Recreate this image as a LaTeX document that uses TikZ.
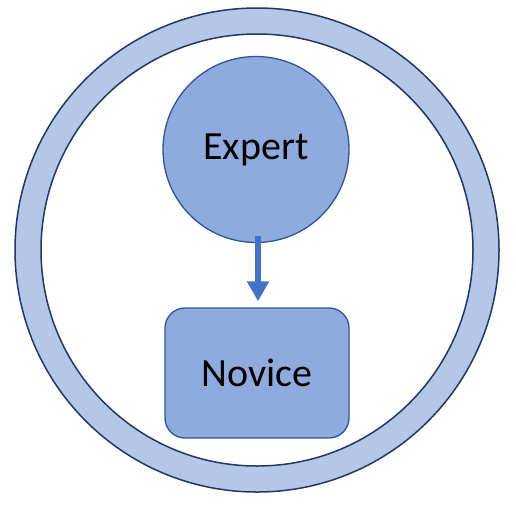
\documentclass[tikz,border=0pt]{standalone}
\usepackage{fontspec}
\setmainfont{Carlito}
\usepackage{tikz}
\usetikzlibrary{arrows.meta,positioning}
\definecolor{ringfill}{HTML}{B4C7E7}
\definecolor{ringline}{HTML}{1F3864}
\definecolor{nodefill}{HTML}{8FAADC}
\definecolor{nodeline}{HTML}{2F5597}
\definecolor{arrowblue}{HTML}{4472C4}

\begin{document}
\begin{tikzpicture}[x=1pt,y=-1pt,
    role/.style={fill=nodefill,draw=nodeline,line width=1.3pt,
      font=\fontsize{40}{48}\selectfont,inner sep=0pt},
    flow/.style={draw=arrowblue,line width=6.5pt,
      -{Triangle[width=21pt,length=20pt]}}]
    \useasboundingbox (0,0) rectangle (516,504);
    \fill[ringfill,even odd rule] (257,250) circle[radius=242] (257,250) circle[radius=216];
    \draw[ringline,line width=1.5pt] (257,250) circle[radius=242];
    \draw[ringline,line width=1.5pt] (257,250) circle[radius=216];
    \node[role,circle,minimum size=186pt] (expert) at (256,149.5) {Expert};
    \node[role,rectangle,rounded corners=20pt,minimum width=184pt,minimum height=130pt] (novice) at (257,373) {Novice};
    \path[flow] ([xshift=2pt,yshift=7pt]expert.south) -- ([xshift=1pt,yshift=6pt]novice.north);
\end{tikzpicture}
\end{document}
